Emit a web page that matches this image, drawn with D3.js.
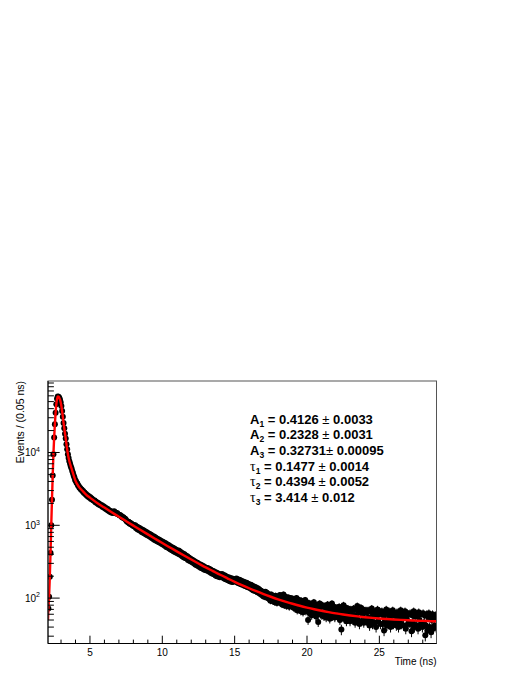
<!DOCTYPE html>
<html>
<head>
<meta charset="utf-8">
<script src="https://cdn.jsdelivr.net/npm/d3@7"></script>
<style>
	html, body { margin: 0; padding: 0; background: #fff; }
	svg { display: block; font-family: "Liberation Sans", Arial, sans-serif; }
</style>
</head>
<body>
<div id="fitViz"><svg></svg></div>
<script>
;(function(){
	var w = 523;
	var h = 677;
	var r = 3;

	// histogram binning (Events / 0.05 ns)
	var binStart = 2.1;
	var binWidth = 0.05;

	var counts = [
		72, 104, 196, 418, 1003, 2240, 4815, 9480, 16050, 24420, 35100, 45900, 54600, 58750, 58400, 56600, 53450, 49100, 43400, 37050,
		31050, 25450, 21560, 18150, 15540, 12960, 11040, 9470, 8430, 7580, 7030, 6480, 6080, 5580, 5230, 4830, 4530, 4180, 4060, 3830,
		3760, 3530, 3470, 3270, 3260, 3110, 3100, 2950, 2960, 2800, 2820, 2690, 2700, 2560, 2590, 2470, 2500, 2390, 2420, 2300,
		2340, 2250, 2230, 2170, 2190, 2070, 2100, 2020, 2040, 1940, 1990, 1900, 1910, 1850, 1880, 1790, 1820, 1750, 1770, 1690,
		1720, 1640, 1670, 1590, 1610, 1540, 1570, 1500, 1520, 1470, 1530, 1560, 1500, 1490, 1450, 1470, 1420, 1410, 1380, 1390,
		1350, 1310, 1320, 1270, 1280, 1240, 1230, 1200, 1150, 1130, 1100, 1120, 1060, 1080, 1030, 1050, 1000, 1020, 970, 990,
		1000, 920, 965, 880, 940, 860, 915, 840, 890, 810, 870, 790, 845, 770, 820, 750, 800, 730, 780, 715,
		760, 690, 740, 670, 715, 650, 700, 630, 680, 615, 660, 600, 645, 585, 630, 570, 610, 555, 595, 540,
		580, 525, 565, 505, 550, 495, 535, 480, 520, 465, 505, 455, 490, 440, 480, 430, 465, 420, 450, 410,
		450, 400, 435, 390, 420, 375, 410, 365, 400, 355, 385, 350, 375, 335, 362, 325, 350, 318, 340, 310,
		330, 300, 320, 290, 312, 282, 305, 275, 295, 268, 290, 260, 282, 255, 275, 248, 268, 244, 262, 240,
		260, 236, 254, 228, 248, 222, 240, 216, 235, 212, 228, 205, 225, 200, 220, 198, 214, 194, 210, 198,
		214, 192, 208, 186, 204, 182, 198, 178, 194, 174, 192, 170, 188, 168, 186, 166, 182, 172, 180, 176,
		186, 164, 180, 160, 178, 158, 174, 154, 170, 152, 168, 148, 164, 146, 162, 142, 158, 140, 154, 138,
		152, 132, 148, 128, 144, 126, 142, 124, 138, 120, 136, 118, 130, 114, 126, 110, 122, 106, 118, 104,
		122, 104, 118, 100, 114, 98, 110, 92, 112, 94, 108, 90, 104, 88, 108, 92, 86, 104, 90, 100,
		110, 86, 104, 82, 100, 112, 80, 96, 104, 78, 94, 84, 102, 76, 92, 100, 78, 90, 98, 74,
		96, 72, 88, 100, 68, 86, 70, 94, 76, 66, 92, 80, 64, 88, 72, 94, 66, 82, 70, 50,
		86, 62, 80, 74, 58, 84, 64, 88, 60, 76, 56, 80, 66, 47, 74, 84, 60, 76, 58, 80,
		76, 56, 78, 62, 54, 72, 82, 58, 70, 52, 76, 60, 84, 56, 68, 76, 54, 70, 58, 74,
		70, 54, 76, 50, 66, 37, 72, 56, 80, 52, 66, 74, 48, 62, 72, 54, 66, 48, 70, 56,
		68, 50, 72, 58, 46, 70, 54, 78, 50, 64, 44, 68, 74, 48, 60, 70, 46, 64, 52, 68,
		64, 46, 68, 54, 42, 66, 50, 72, 44, 60, 66, 46, 62, 40, 58, 70, 48, 60, 66, 44,
		62, 66, 44, 58, 36, 64, 50, 70, 42, 60, 46, 66, 54, 40, 64, 48, 68, 44, 58, 46,
		60, 42, 64, 52, 40, 62, 46, 68, 44, 56, 62, 42, 58, 66, 38, 54, 62, 44, 60, 46,
		62, 44, 35, 58, 46, 66, 40, 56, 62, 42, 58, 38, 64, 50, 42, 60, 44, 40, 62, 46,
		58, 31, 42, 60, 36, 54, 62, 40, 56, 34, 50, 60, 38, 54, 42, 58, 40
	];

	// fitted curve
	var fitTimes = [2.1, 2.125, 2.175, 2.225, 2.275, 2.325, 2.375, 2.425, 2.475, 2.525, 2.575, 2.625, 2.675, 2.725, 2.775,
		2.825, 2.875, 2.925, 2.975, 3.025, 3.075, 3.125, 3.175, 3.225, 3.275, 3.325, 3.375, 3.425, 3.475, 3.525, 3.575,
		3.625, 3.675, 3.725, 3.775, 3.825, 3.875, 3.925, 3.975, 4.25, 4.5, 4.75, 5.0, 5.5, 6.0, 6.5, 7.0, 7.5, 8.0, 8.5,
		9.0, 9.5, 10, 10.5, 11, 11.5, 12, 12.5, 13, 13.5, 14, 14.5, 15, 15.5, 16, 16.5, 17, 17.5, 18, 18.5, 19, 19.5,
		20, 20.5, 21, 21.5, 22, 22.5, 23, 23.5, 24, 24.5, 25, 25.5, 26, 26.5, 27, 27.5, 28, 28.5, 28.95];
	var fitValues = [50, 70, 104, 196, 420, 1000, 2250, 4800, 9500, 16000, 24500, 35000, 46000, 54500, 58800,
		58500, 56500, 53500, 49000, 43500, 37000, 31000, 25500, 21500, 18200, 15500, 13000, 11000, 9500, 8400, 7600,
		7000, 6500, 6050, 5600, 5200, 4850, 4500, 4200, 3350, 2950, 2620, 2400, 2020, 1750, 1511, 1311, 1139, 990, 861,
		750, 654, 571, 500, 438, 385, 339, 299, 264, 235, 209, 187, 167.5, 151, 136.6, 124.3, 113.6, 104.4, 96.4, 89.6, 83.6, 78.5,
		74.1, 70.3, 67, 64.1, 61.6, 59.5, 57.7, 56.1, 54.7, 53.5, 52.5, 51.6, 50.8, 50.2, 49.6, 49.1, 48.7, 48.3, 48];

	var xTicksMajor = [5, 10, 15, 20, 25];
	var yTicksMajor = [100, 1000, 10000];
	var yTickExponents = ["2", "3", "4"];

	var paramSymbols = ["A", "A", "A", "\u03c4", "\u03c4", "\u03c4"];
	var paramIndex = ["1", "2", "3", "1", "2", "3"];
	var paramValues = ["0.4126", "0.2328", "0.32731", "0.1477", "0.4394", "3.414"];
	var paramErrors = ["0.0033", "0.0031", "0.00095", "0.0014", "0.0052", "0.012"];

	// frame in pixels
	var xrange = [48, 436.5];
	var yrange = [643.5, 381];
	var xdomain = [2.1, 28.95];
	var ydomain = [23.8, 95900];

	var svg = d3.select("#fitViz svg")
		.attr("width", w)
		.attr("height", h);

	// 1) scales
	var xscale = d3.scaleLinear().domain(xdomain).range(xrange);
	var yscale = d3.scaleLog().domain(ydomain).range(yrange);

	var points = counts.map(function(c, i){
		return { t: binStart + (i + 0.5) * binWidth, n: c };
	});

	svg.append("clipPath")
		.attr("id", "frame-clip")
		.append("rect")
			.attr("x", xrange[0])
			.attr("y", yrange[1])
			.attr("width", xrange[1] - xrange[0])
			.attr("height", yrange[0] - yrange[1]);

	var plot = svg.append("g").attr("clip-path", "url(#frame-clip)");

	// 2) data points with poisson error bars
	plot.selectAll("line.err")
		.data(points)
		.enter().append("line")
			.attr("class", "err")
			.attr("x1", function(d){ return xscale(d.t); })
			.attr("x2", function(d){ return xscale(d.t); })
			.attr("y1", function(d){ return yscale(Math.max(d.n - Math.sqrt(d.n), 1)); })
			.attr("y2", function(d){ return yscale(d.n + Math.sqrt(d.n)); })
			.attr("stroke", "#000")
			.attr("stroke-width", 1);

	plot.selectAll("circle.data-points")
		.data(points)
		.enter().append("circle")
			.attr("class", "data-points")
			.attr("cx", function(d){ return xscale(d.t); })
			.attr("cy", function(d){ return yscale(d.n); })
			.attr("r", r)
			.attr("fill", "#000");

	// 3) fit curve on top
	var line = d3.line()
		.x(function(d){ return xscale(d[0]); })
		.y(function(d){ return yscale(d[1]); })
		.curve(d3.curveMonotoneX);

	plot.append("path")
		.datum(d3.zip(fitTimes, fitValues))
		.attr("d", line)
		.attr("fill", "none")
		.attr("stroke", "#ff0000")
		.attr("stroke-width", 2.4);

	// 4) frame
	svg.append("rect")
		.attr("x", xrange[0])
		.attr("y", yrange[1])
		.attr("width", xrange[1] - xrange[0])
		.attr("height", yrange[0] - yrange[1])
		.attr("fill", "none")
		.attr("stroke", "#555")
		.attr("stroke-width", 1);
	svg.append("line")
		.attr("x1", xrange[0]).attr("x2", xrange[0])
		.attr("y1", yrange[0]).attr("y2", yrange[1])
		.attr("stroke", "#000");
	svg.append("line")
		.attr("x1", xrange[0]).attr("x2", xrange[1])
		.attr("y1", yrange[0]).attr("y2", yrange[0])
		.attr("stroke", "#000");

	// 5) x ticks (inside), major every 5, minor every 1
	var xMinor = d3.range(Math.ceil(xdomain[0]), Math.floor(xdomain[1]) + 1);
	svg.selectAll("line.x-tick")
		.data(xMinor)
		.enter().append("line")
			.attr("class", "x-tick")
			.attr("x1", function(d){ return xscale(d); })
			.attr("x2", function(d){ return xscale(d); })
			.attr("y1", yrange[0])
			.attr("y2", function(d){ return yrange[0] - (d % 5 == 0 ? 7.8 : 3.9); })
			.attr("stroke", "#000");

	svg.selectAll("text.x-axis-tick")
		.data(xTicksMajor)
		.enter().append("text")
			.attr("class", "x-axis-tick")
			.attr("x", function(d){ return xscale(d); })
			.attr("y", 656)
			.attr("fill", "black")
			.style("text-anchor", "middle")
			.style("font-size", "10px")
			.text(function(d){ return d; });

	svg.append("text")
		.attr("x", xrange[1])
		.attr("y", 665)
		.style("text-anchor", "end")
		.style("font-size", "10px")
		.text("Time (ns)");

	// 6) y ticks, log decades with minor ticks
	var yMinor = [];
	[10, 100, 1000, 10000].forEach(function(dec){
		for(var k = 1; k < 10; k++){
			var v = dec * k;
			if(v >= ydomain[0] && v <= ydomain[1]) yMinor.push(v);
		}
	});
	svg.selectAll("line.y-tick")
		.data(yMinor)
		.enter().append("line")
			.attr("class", "y-tick")
			.attr("x1", xrange[0])
			.attr("x2", function(d){ return xrange[0] + (yTicksMajor.indexOf(d) > -1 ? 11.7 : 5.9); })
			.attr("y1", function(d){ return yscale(d); })
			.attr("y2", function(d){ return yscale(d); })
			.attr("stroke", "#000");

	var ylab = svg.selectAll("text.y-axis-tick")
		.data(yTicksMajor)
		.enter().append("text")
			.attr("class", "y-axis-tick")
			.attr("x", 40)
			.attr("y", function(d){ return yscale(d) + 3.8; })
			.style("text-anchor", "end")
			.style("font-size", "10px");
	ylab.append("tspan").text("10");
	ylab.append("tspan")
		.attr("dy", -4.5)
		.style("font-size", "7px")
		.text(function(d, i){ return yTickExponents[i]; });

	svg.append("text")
		.attr("transform", "translate(24," + yrange[1] + ") rotate(-90)")
		.style("text-anchor", "end")
		.style("font-size", "10.5px")
		.text("Events / (0.05 ns)");

	// 7) fit parameters box
	var params = svg.append("g").attr("class", "params");
	paramValues.forEach(function(v, i){
		var t = params.append("text")
			.attr("x", 250)
			.attr("y", 423.5 + i * 15.7)
			.style("font-size", "13px")
			.style("font-weight", "bold");
		if(paramSymbols[i] == "A"){
			t.append("tspan").text(paramSymbols[i]);
		}
		else{
			t.append("tspan")
				.style("font-family", "'Liberation Serif', serif")
				.style("font-weight", "normal")
				.style("font-size", "14px")
				.text(paramSymbols[i]);
		}
		t.append("tspan")
			.attr("dy", 3)
			.style("font-size", "8.5px")
			.text(paramIndex[i]);
		t.append("tspan")
			.attr("dy", -3)
			.text(" = " + v + (v.length > 6 ? "" : " "));
		t.append("tspan")
			.style("font-weight", "normal")
			.text("\u00b1");
		t.append("tspan")
			.text(" " + paramErrors[i]);
	});
})();
</script>
</body>
</html>
